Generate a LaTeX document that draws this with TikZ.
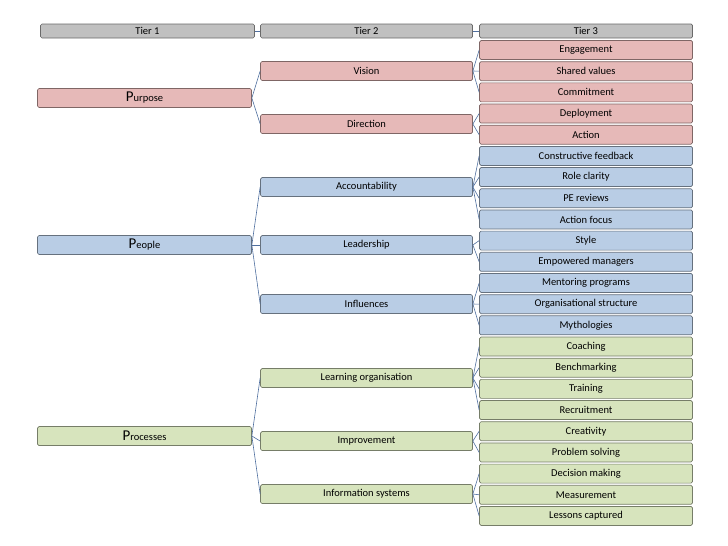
\documentclass[tikz,border=0pt]{standalone}
\usepackage{fontspec}
\setmainfont{Carlito}
\begin{document}
\begin{tikzpicture}[x=1pt,y=-1pt,
  bx/.style={draw=#1!55!black, rounded corners=1.5pt, line width=0.7pt, minimum height=19pt, inner sep=0pt, font=\fontsize{10.5}{11}\selectfont, anchor=center},
  t1/.style={minimum width=214pt},
  t2/.style={minimum width=212pt},
  t3/.style={minimum width=213pt},
  red/.style={bx=redc, fill=redc},
  blu/.style={bx=bluc, fill=bluc},
  grn/.style={bx=grnc, fill=grnc},
  gry/.style={bx=gryc, fill=gryc, minimum height=14pt},
  ln/.style={draw=lnc, line width=0.6pt}]
\definecolor{redc}{HTML}{E6B9B8}
\definecolor{bluc}{HTML}{B9CDE5}
\definecolor{grnc}{HTML}{D7E4BD}
\definecolor{gryc}{HTML}{C0C0C0}
\definecolor{lnc}{HTML}{4F6F9F}
\useasboundingbox (0,0) rectangle (728,546);
% headers
\node[gry,t1] (h1) at (147.5,31) {Tier 1};
\node[gry,t2] (h2) at (366.5,31) {Tier 2};
\node[gry,t3] (h3) at (586,31) {Tier 3};
\draw[ln] (h1.east) -- (h2.west);
\draw[ln] (h2.east) -- (h3.west);
% tier 1
\node[red,t1] (p1) at (144.5,98) {{\fontsize{15}{15}\selectfont P}urpose\hspace{60pt}};
\node[blu,t1] (p2) at (144.5,245) {{\fontsize{15}{15}\selectfont P}eople\hspace{66pt}};
\node[grn,t1] (p3) at (144.5,436) {{\fontsize{15}{15}\selectfont P}rocesses\hspace{50pt}};
% tier 2
\node[red,t2] (vis) at (366.5,71) {Vision};
\node[red,t2] (dir) at (366.5,124) {Direction};
\node[blu,t2] (acc) at (366.5,187) {Accountability};
\node[blu,t2] (lea) at (366.5,245) {Leadership};
\node[blu,t2] (inf) at (366.5,304) {Influences};
\node[grn,t2] (lrn) at (366.5,378) {Learning organisation};
\node[grn,t2] (imp) at (366.5,441) {Improvement};
\node[grn,t2] (ifs) at (366.5,494) {Information systems};
\foreach \a/\b in {p1/vis,p1/dir,p2/acc,p2/lea,p2/inf,p3/lrn,p3/imp,p3/ifs}
  \draw[ln] (\a.east) -- (\b.west);
% tier 3
\foreach \i/\t/\s/\p in {
 0/Engagement/red/vis, 1/Shared values/red/vis, 2/Commitment/red/vis,
 3/Deployment/red/dir, 4/Action/red/dir,
 5/Constructive feedback/blu/acc, 6/Role clarity/blu/acc, 7/PE reviews/blu/acc, 8/Action focus/blu/acc,
 9/Style/blu/lea, 10/Empowered managers/blu/lea,
 11/Mentoring programs/blu/inf, 12/Organisational structure/blu/inf, 13/Mythologies/blu/inf,
 14/Coaching/grn/lrn, 15/Benchmarking/grn/lrn, 16/Training/grn/lrn, 17/Recruitment/grn/lrn,
 18/Creativity/grn/imp, 19/Problem solving/grn/imp,
 20/Decision making/grn/ifs, 21/Measurement/grn/ifs, 22/Lessons captured/grn/ifs}{
  \node[\s,t3] (c\i) at (586,{50+21.18*\i}) {\t};
  \draw[ln] (\p.east) -- (c\i.west);
}
\end{tikzpicture}
\end{document}
